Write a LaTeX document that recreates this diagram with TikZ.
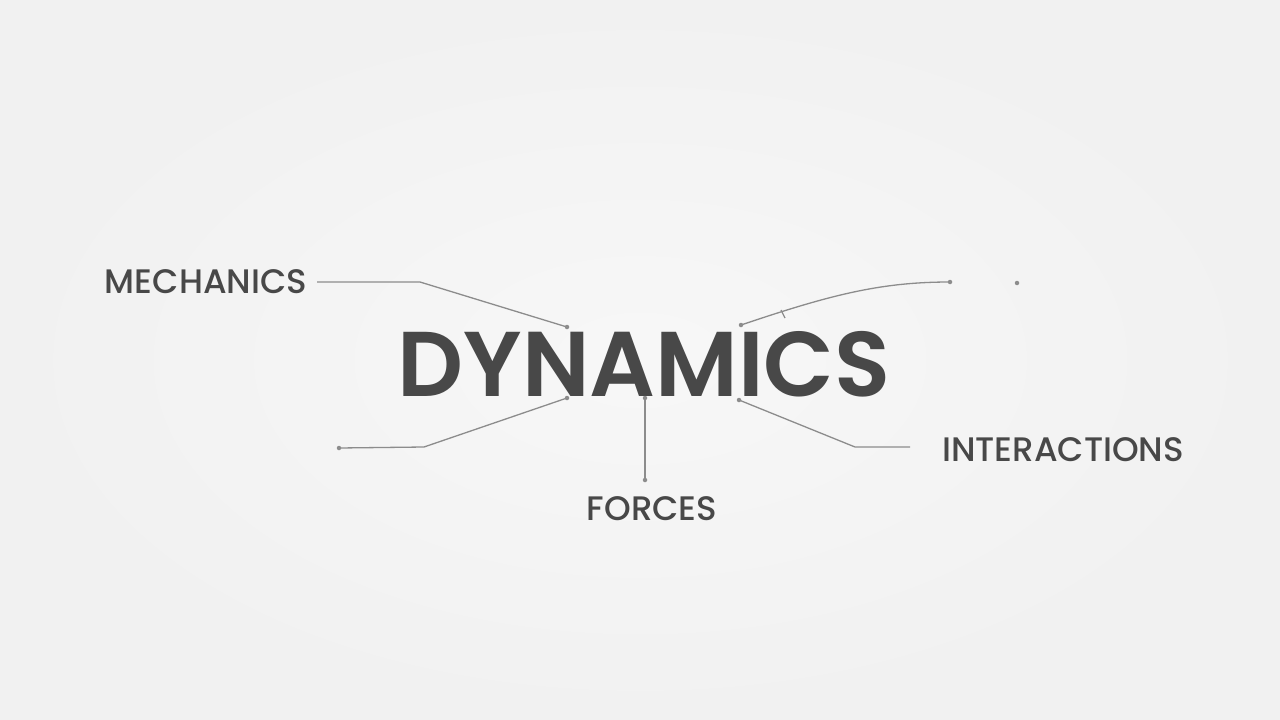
\documentclass[tikz,border=0pt]{standalone}
\usepackage{fontspec}
\setmainfont{Poppins}
\newfontfamily\titlefont{Poppins SemiBold}
\newfontfamily\labelfont{Poppins Medium}
\usepackage{tikz}
\usetikzlibrary{calc}
\definecolor{inkgray}{HTML}{484848}
\definecolor{linegray}{HTML}{8C8C8C}
\begin{document}
\begin{tikzpicture}
  [
    x=1pt, y=-1pt,
    title/.style =
      {inner sep=0pt, text=inkgray, font=\titlefont\fontsize{92}{92}\selectfont},
    label/.style =
      {inner sep=0pt, text=inkgray, font=\labelfont\fontsize{34}{34}\selectfont},
    link/.style =
      {draw=linegray, line width=1.3pt},
    dot/.style =
      {circle, fill=linegray, inner sep=0pt, minimum size=4.5pt}
  ]
  \shade[inner color=white!94!gray, outer color=white!89!gray]
    (0,0) rectangle (1280,720);
  \useasboundingbox (0,0) rectangle (1280,720);

  \node [title] at (644,364) (dyn)    {DYNAMICS};
  \node [label] at (206,282) (mech)   {MECHANICS};
  \node [label] at (1063,450) (inter) {INTERACTIONS};
  \node [label] at (652,509) (forces) {FORCES};

  \node [dot] at (567,327) (a1) {};
  \node [dot] at (741,325) (b1) {};
  \node [dot] at (950,282) (b2) {};
  \node [dot] at (1017,283) (b3) {};
  \node [dot] at (567,398) (c1) {};
  \node [dot] at (339,448) (c2) {};
  \node [dot] at (645,398) (d1) {};
  \node [dot] at (645,480) (d2) {};
  \node [dot] at (739,400) (e1) {};
  \coordinate (e2) at (910,447);
  \coordinate (t1) at (781,310);
  \coordinate (t2) at (785,318);

  \draw[link] (mech.east) ++(10,0) -- (420,282) -- (a1.center);
  \draw[link] (b1.center) .. controls (830,295) and (880,282) .. (b2.center);
  \draw[link] (t1) -- (t2);
  \draw[link] (c2.center) -- (424,447) -- (c1.center);
  \draw[link] (d1.center) -- (d2.center);
  \draw[link] (e1.center) -- (855,447) -- (e2);

\end{tikzpicture}
\end{document}
